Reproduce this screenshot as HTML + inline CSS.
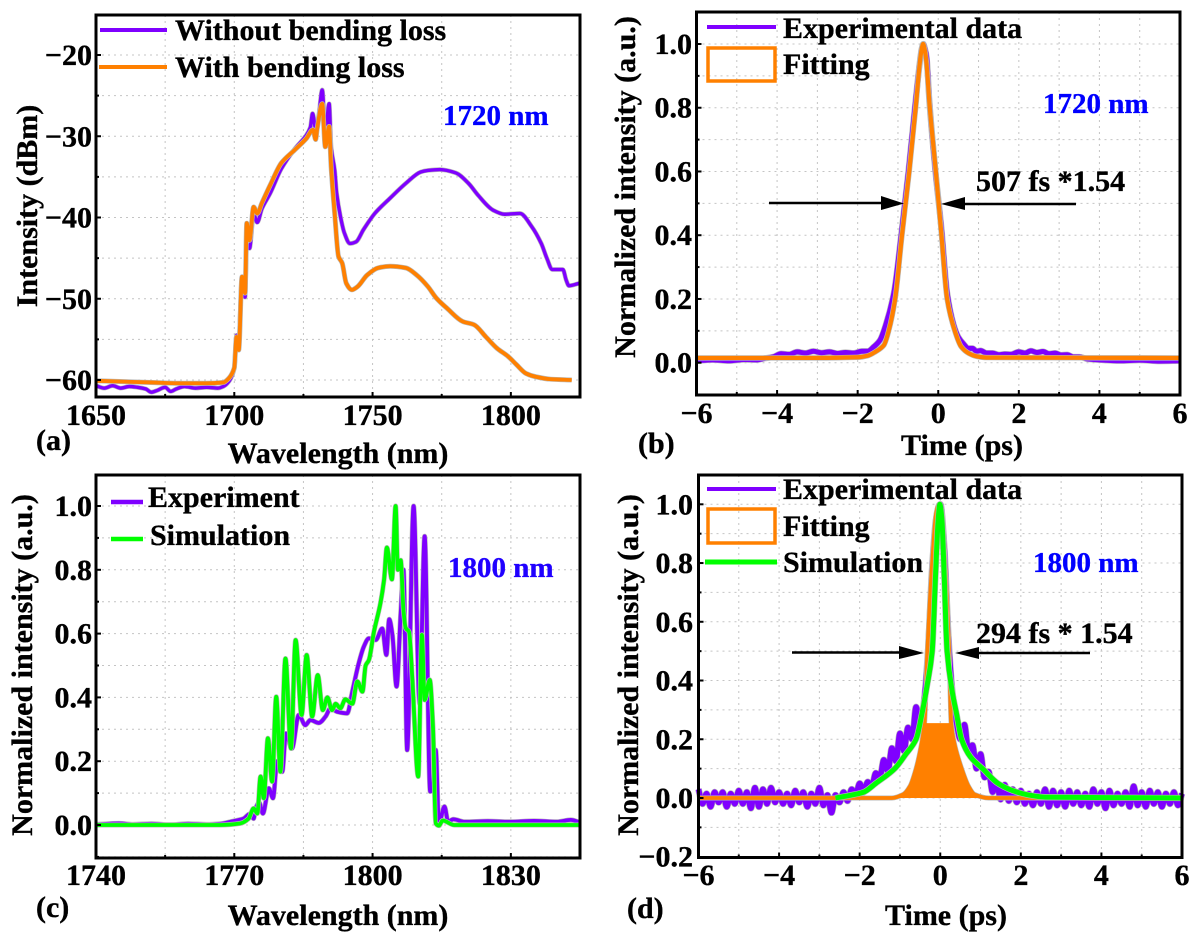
<!DOCTYPE html>
<html lang="en">
<head>
<meta charset="utf-8">
<title>Spectra and autocorrelation traces at 1720 nm and 1800 nm</title>
<style>
html,body{margin:0;padding:0;background:#fff;}
svg{display:block;}
text{font-family:"Liberation Serif",serif;font-weight:bold;font-size:30px;fill:#000;stroke:#000;stroke-width:0.35px;}
.blue{fill:#0000ff;stroke:#0000ff;font-size:29px;}
.violet{fill:#2000ff;stroke:#2000ff;font-size:29px;}
</style>
</head>
<body>
<svg id="figure" xmlns="http://www.w3.org/2000/svg" width="1200" height="941" viewBox="0 0 1200 941">
<g id="layer-grid"></g>
<g id="layer-series"></g>
<g id="layer-frame"></g>

<!-- Panel a -->
<text transform="translate(37,206) rotate(-90)" text-anchor="middle">Intensity (dBm)</text>
<text x="338" y="463" text-anchor="middle">Wavelength (nm)</text>
<text x="36" y="450">(a)</text>
<line x1="100" y1="30" x2="167" y2="30" stroke="#7f00ff" stroke-width="4"/>
<text x="175" y="40">Without bending loss</text>
<line x1="99" y1="67" x2="167" y2="67" stroke="#ff8000" stroke-width="4"/>
<text x="175" y="77">With bending loss</text>
<text class="blue" x="443" y="125">1720 nm</text>

<!-- Panel b -->
<text transform="translate(635,187) rotate(-90)" text-anchor="middle">Normalized intensity (a.u.)</text>
<text x="962" y="455" text-anchor="middle">Time (ps)</text>
<text x="638" y="453">(b)</text>
<line x1="707" y1="27" x2="776" y2="27" stroke="#7f00ff" stroke-width="4"/>
<text x="783" y="38">Experimental data</text>
<rect x="708" y="48" width="67" height="33" fill="none" stroke="#ff8000" stroke-width="3.5"/>
<text x="783" y="74">Fitting</text>
<text class="blue" x="1043" y="113">1720 nm</text>
<text x="976" y="191">507 fs *1.54</text>
<g>
<line x1="769" y1="203" x2="884" y2="203" stroke="#000" stroke-width="2.5"/>
<polygon points="881,196 904,203.5 881,210" fill="#000"/>
</g>
<g>
<line x1="1076" y1="204" x2="960" y2="204" stroke="#000" stroke-width="2.5"/>
<polygon points="965,197 941,204 965,210" fill="#000"/>
</g>

<!-- Panel c -->
<text transform="translate(32,665) rotate(-90)" text-anchor="middle">Normalized intensity (a.u.)</text>
<text x="338" y="925" text-anchor="middle">Wavelength (nm)</text>
<text x="36" y="917">(c)</text>
<line x1="111" y1="502" x2="143" y2="502" stroke="#7f00ff" stroke-width="4.5"/>
<text x="148" y="507">Experiment</text>
<line x1="111" y1="539" x2="143" y2="539" stroke="#00ff00" stroke-width="4.5"/>
<text x="150" y="545">Simulation</text>
<text class="violet" x="448" y="577">1800 nm</text>

<!-- Panel d -->
<text transform="translate(638,665) rotate(-90)" text-anchor="middle">Normalized intensity (a.u.)</text>
<text x="946" y="925" text-anchor="middle">Time (ps)</text>
<text x="627" y="918">(d)</text>
<line x1="707" y1="489" x2="776" y2="489" stroke="#7f00ff" stroke-width="4"/>
<text x="783" y="499">Experimental data</text>
<rect x="708" y="509" width="67" height="34" fill="none" stroke="#ff8000" stroke-width="3.5"/>
<text x="783" y="536">Fitting</text>
<line x1="705" y1="562" x2="777" y2="562" stroke="#00ff00" stroke-width="5"/>
<text x="783" y="572">Simulation</text>
<text class="blue" x="1033" y="572">1800 nm</text>
<text x="976" y="643">294 fs * 1.54</text>
<g>
<line x1="792" y1="652.5" x2="902" y2="652.5" stroke="#000" stroke-width="2.5"/>
<polygon points="899,646 924,653 899,659" fill="#000"/>
</g>
<g>
<line x1="1090" y1="653" x2="975" y2="653" stroke="#000" stroke-width="2.5"/>
<polygon points="979,647 955,653 979,659" fill="#000"/>
</g>
</svg>

<script>
// ---------- Panel (a) data ----------
const aTicksX = [1650, 1700, 1750, 1800];
const aTicksY = [-20, -30, -40, -50, -60];
const aWithoutX = [1650,1653,1656,1659,1662,1665,1668,1670,1672,1675,1677,1679,1682,1686,1690,1694,1696,1698,1700,1700.8,1701.5,1702.8,1703.9,1704.5,1705.5,1707,1708.3,1710,1713,1717,1722,1726,1727.5,1728.3,1729.4,1730.5,1731.8,1732.9,1734.3,1735,1736.3,1737,1738.4,1739.8,1741.8,1744,1746.7,1750.8,1756.4,1762,1767.4,1770,1774.3,1780,1784.7,1788,1793.6,1797.8,1803.3,1807.5,1811,1813,1815,1818.8,1820,1821,1824.7];
const aWithoutY = [-60.7,-61,-60.7,-61,-60.8,-60.9,-61.1,-61.5,-61.3,-60.9,-61.4,-61.1,-60.8,-61,-60.9,-61,-60.8,-60.2,-58.6,-54.5,-56,-47.5,-49.8,-43.3,-43.8,-39.6,-40.6,-38.9,-37,-34,-31.5,-29.9,-28.9,-27.2,-29,-27.5,-24.3,-29.6,-26,-31.3,-34.2,-37,-39.9,-41.9,-43.2,-43,-41.5,-39.5,-37.6,-35.8,-34.4,-34.2,-34.1,-34.5,-35.8,-37.2,-39.1,-39.6,-39.5,-41.1,-43.2,-45,-46.4,-46.4,-47.7,-48.4,-48.1];
const aWithX = [1650,1660,1670,1680,1690,1696,1698,1700,1700.8,1701.6,1702.8,1703.9,1704.5,1705.5,1707,1708.3,1710,1713,1717,1721.8,1726,1728.5,1729.4,1730,1731.8,1732.9,1734.3,1735,1736.3,1737.7,1739,1740.5,1742.5,1744.6,1748,1752,1756.4,1762,1766,1770,1773,1777,1782.6,1786.7,1791,1795,1799,1802,1805.5,1809,1814.4,1822];
const aWithY = [-60.1,-60.2,-60.3,-60.4,-60.4,-60.3,-59.8,-58.5,-54.7,-56.3,-47.3,-49.3,-40.7,-42.8,-38.7,-39.5,-38.2,-36,-33.3,-31.7,-30.3,-29.2,-30.4,-29,-26,-31.3,-28.8,-33.7,-39.5,-44.8,-45.6,-48.1,-48.9,-48.5,-47.1,-46.2,-46,-46.2,-47.1,-48.5,-49.9,-51.2,-52.8,-53.2,-54.7,-56.1,-57.1,-58.1,-59.2,-59.6,-59.9,-60];

// ---------- Panel (b) data ----------
const bTicksX = [-6, -4, -2, 0, 2, 4, 6];
const bTicksY = [0.0, 0.2, 0.4, 0.6, 0.8, 1.0];
const bExperimentX = [-6,-5.6,-5.2,-4.8,-4.5,-4.3,-4.1,-3.9,-3.7,-3.5,-3.3,-3.1,-2.9,-2.7,-2.5,-2.3,-2.1,-1.9,-1.75,-1.6,-1.45,-1.3,-1.1,-0.92,-0.74,-0.58,-0.46,-0.41,-0.37,-0.33,-0.29,-0.22,-0.07,0.08,0.22,0.38,0.5,0.62,0.75,0.85,0.95,1.05,1.2,1.35,1.5,1.65,1.8,2,2.15,2.3,2.45,2.6,2.75,2.9,3.05,3.2,3.35,3.5,3.7,4,4.5,5,5.5,6];
const bExperimentY = [0.006,0.009,0.006,0.01,0.009,0.014,0.018,0.028,0.026,0.034,0.03,0.036,0.031,0.034,0.029,0.032,0.03,0.036,0.036,0.05,0.07,0.12,0.22,0.40,0.60,0.80,0.94,0.985,1.0,0.985,0.96,0.82,0.60,0.42,0.22,0.12,0.08,0.06,0.045,0.045,0.036,0.038,0.03,0.03,0.025,0.027,0.026,0.034,0.03,0.037,0.032,0.035,0.028,0.03,0.024,0.025,0.018,0.018,0.012,0.009,0.006,0.008,0.005,0.006];
const bFitX = [-6,-3,-2,-1.75,-1.55,-1.35,-1.23,-1.07,-0.9,-0.72,-0.56,-0.45,-0.41,-0.375,-0.34,-0.3,-0.21,-0.06,0.08,0.22,0.41,0.57,0.75,0.95,1.2,6];
const bFitY = [0.015,0.015,0.017,0.022,0.035,0.055,0.10,0.20,0.40,0.60,0.80,0.95,0.985,1.0,0.985,0.95,0.80,0.60,0.40,0.20,0.10,0.05,0.03,0.02,0.016,0.015];

// ---------- Panel (c) data ----------
const cTicksX = [1740, 1770, 1800, 1830];
const cTicksY = [0.0, 0.2, 0.4, 0.6, 0.8, 1.0];
const cExperimentX = [1740,1745,1748,1752,1756,1760,1764,1767,1769.1,1772,1773.4,1774.2,1774.6,1775.4,1776.2,1777.5,1778.4,1779.3,1780.4,1781.2,1782.5,1784,1785.4,1786.5,1788.3,1789.8,1790.9,1792.3,1794.5,1795.6,1797,1798.1,1799.2,1800.7,1802.1,1803,1803.6,1804.3,1805.2,1806.1,1806.7,1807.5,1808.9,1810.2,1811.3,1812.5,1813,1813.7,1814.4,1815.6,1816.4,1817.5,1820,1825,1830,1835,1840,1843,1845];
const cExperimentY = [0.002,0.005,0.002,0.004,0.001,0.004,0.002,0.004,0.01,0.02,0.035,0.02,0.05,0.07,0.036,0.115,0.084,0.20,0.167,0.287,0.24,0.345,0.313,0.329,0.32,0.34,0.366,0.355,0.35,0.418,0.507,0.559,0.585,0.58,0.616,0.533,0.645,0.596,0.434,0.663,0.80,0.235,1.0,0.38,0.905,0.105,0.11,0.235,0.005,0.058,0.01,0.018,0.01,0.012,0.01,0.013,0.01,0.016,0.008];
const cSimulationX = [1740,1767,1771.3,1773.1,1774.2,1775,1775.7,1776.4,1777.3,1778.2,1779.1,1780,1781.1,1782.3,1783.3,1784.6,1785.7,1786.9,1788.1,1789.2,1790.2,1791.2,1792,1793,1794.1,1795.6,1796.7,1797.8,1798.5,1799.2,1800.3,1801.7,1802.5,1803.1,1804.2,1805,1805.5,1806.1,1806.7,1807.2,1807.9,1808.6,1809.9,1810.7,1811.3,1812.4,1813.1,1813.7,1814.4,1815.2,1817.7,1845];
const cSimulationY = [0,0,0.005,0.02,0.052,0.036,0.152,0.084,0.272,0.136,0.402,0.167,0.522,0.24,0.58,0.345,0.533,0.34,0.47,0.36,0.40,0.36,0.38,0.366,0.394,0.38,0.45,0.418,0.50,0.517,0.606,0.695,0.77,0.87,0.77,1.0,0.80,0.83,0.674,0.617,0.606,0.465,0.152,0.596,0.392,0.455,0.308,0.005,-0.002,0.014,0,0];

// ---------- Panel (d) data ----------
const dTicksX = [-6, -4, -2, 0, 2, 4, 6];
const dTicksY = [-0.2, 0.0, 0.2, 0.4, 0.6, 0.8, 1.0];
const dExperimentX = [-6,-5.9,-5.8,-5.7,-5.6,-5.5,-5.4,-5.3,-5.2,-5.1,-5,-4.9,-4.8,-4.7,-4.6,-4.5,-4.4,-4.3,-4.2,-4.1,-4,-3.9,-3.8,-3.7,-3.6,-3.5,-3.4,-3.3,-3.2,-3.1,-3,-2.9,-2.8,-2.7,-2.6,-2.5,-2.4,-2.3,-2.2,-2.1,-2,-1.9,-1.8,-1.7,-1.6,-1.5,-1.4,-1.3,-1.2,-1.1,-1,-0.9,-0.8,-0.7,-0.6,-0.5,-0.4,-0.3,-0.2,-0.1,0,0.1,0.2,0.3,0.4,0.5,0.6,0.7,0.8,0.9,1,1.1,1.2,1.3,1.4,1.5,1.6,1.7,1.8,1.9,2,2.1,2.2,2.3,2.4,2.5,2.6,2.7,2.8,2.9,3,3.1,3.2,3.3,3.4,3.5,3.6,3.7,3.8,3.9,4,4.1,4.2,4.3,4.4,4.5,4.6,4.7,4.8,4.9,5,5.1,5.2,5.3,5.4,5.5,5.6,5.7,5.8,5.9,6];
const dExperimentY = [0.03,-0.02,0.015,-0.03,0.02,-0.015,0.02,-0.03,0.015,-0.02,0.025,-0.02,0.02,-0.035,0.035,-0.03,0.03,-0.02,0.035,-0.015,0.02,-0.02,0.015,-0.025,0.025,-0.015,0.02,-0.03,0.015,-0.02,0.035,-0.025,0.01,-0.05,0.01,-0.015,0.02,-0.01,0.03,0.01,0.05,0.02,0.055,0.04,0.085,0.07,0.13,0.09,0.17,0.125,0.22,0.16,0.24,0.2,0.31,0.24,0.33,0.5,0.78,0.95,1.0,0.85,0.55,0.36,0.26,0.2,0.25,0.16,0.18,0.1,0.15,0.07,0.09,0.02,0.05,-0.005,0.045,-0.01,0.03,-0.015,0.025,-0.02,0.015,-0.025,0.02,-0.02,0.03,-0.03,0.025,-0.025,0.02,-0.03,0.025,-0.02,0.02,-0.025,0.015,-0.03,0.03,-0.02,0.02,-0.035,0.025,-0.025,0.015,-0.02,0.02,-0.03,0.04,-0.025,0.02,-0.03,0.025,-0.02,0.02,-0.03,0.015,-0.02,0.02,-0.025,0.015];
const dFitX = [-6,-1.2,-0.92,-0.75,-0.6,-0.47,-0.39,-0.32,-0.2,-0.1,-0.03,0.05,0.12,0.22,0.27,0.36,0.53,0.7,0.85,1.2,6];
const dFitY = [0,0,0.012,0.04,0.1,0.18,0.255,0.5,0.8,0.97,1.0,0.97,0.8,0.5,0.255,0.18,0.1,0.04,0.012,0,0];
const dFitFillX = [-1.2,-0.92,-0.75,-0.6,-0.47,-0.39,0.27,0.36,0.53,0.7,0.85,1.2];
const dFitFillY = [0,0.012,0.04,0.1,0.18,0.255,0.255,0.18,0.1,0.04,0.012,0];
const dSimulationX = [-2.6,-2.2,-1.9,-1.6,-1.13,-0.85,-0.6,-0.45,-0.33,-0.2,-0.12,-0.05,-0.01,0.04,0.1,0.17,0.3,0.4,0.53,0.75,1.05,1.43,1.8,2.2,2.6,6];
const dSimulationY = [0,0.01,0.02,0.05,0.1,0.15,0.2,0.29,0.38,0.5,0.75,0.95,1.0,0.95,0.75,0.5,0.36,0.29,0.2,0.14,0.1,0.05,0.025,0.01,0.003,0];

// ---------- Rendering ----------
const SVGNS = 'http://www.w3.org/2000/svg';
const PURPLE = '#7f00ff', ORANGE = '#ff8000', GREEN = '#00ff00';
const gridLayer = document.getElementById('layer-grid');
const seriesLayer = document.getElementById('layer-series');
const frameLayer = document.getElementById('layer-frame');

function makePanel(o) {
  o.sx = function (v) { return o.left + (v - o.xMin) / (o.xMax - o.xMin) * (o.right - o.left); };
  o.sy = function (v) { return o.y0 + (v - o.yRef0) / (o.yRef1 - o.yRef0) * (o.y1 - o.y0); };
  return o;
}
function fmtY(v, d) {
  const s = Math.abs(v).toFixed(d);
  return (v < 0 ? '\u2212' : '') + s;
}
function addLine(parent, x1, y1, x2, y2, color, width, dash) {
  const el = document.createElementNS(SVGNS, 'line');
  el.setAttribute('x1', x1);
  el.setAttribute('y1', y1);
  el.setAttribute('x2', x2);
  el.setAttribute('y2', y2);
  el.setAttribute('stroke', color);
  el.setAttribute('stroke-width', width);
  if (dash) el.setAttribute('stroke-dasharray', dash);
  parent.appendChild(el);
  return el;
}
// Monotone cubic through the plotted points: smooth, with no overshoot past the read values.
function curvePath(px, py) {
  const n = px.length;
  const sec = [];
  for (let i = 0; i < n - 1; i++) sec.push((py[i + 1] - py[i]) / (px[i + 1] - px[i]));
  const tan = [];
  for (let i = 0; i < n; i++) {
    if (i === 0) tan.push(sec[0]);
    else if (i === n - 1) tan.push(sec[n - 2]);
    else if (sec[i - 1] * sec[i] <= 0) tan.push(0);
    else tan.push(2 / (1 / sec[i - 1] + 1 / sec[i]));
  }
  let d = 'M' + px[0].toFixed(2) + ' ' + py[0].toFixed(2);
  for (let i = 0; i < n - 1; i++) {
    const h = (px[i + 1] - px[i]) / 3;
    d += 'C' + (px[i] + h).toFixed(2) + ' ' + (py[i] + tan[i] * h).toFixed(2) + ' ' +
         (px[i + 1] - h).toFixed(2) + ' ' + (py[i + 1] - tan[i + 1] * h).toFixed(2) + ' ' +
         px[i + 1].toFixed(2) + ' ' + py[i + 1].toFixed(2);
  }
  return d;
}
function addSeries(panel, xs, ys, color, width, name) {
  const d = curvePath(xs.map(panel.sx), ys.map(panel.sy));
  const group = document.createElementNS(SVGNS, 'g');
  
  
  [['#b9b9b9', width + 1.2], [color, width]].forEach(function (style) {
    const el = document.createElementNS(SVGNS, 'path');
    el.setAttribute('d', d);
    el.setAttribute('fill', 'none');
    el.setAttribute('stroke', style[0]);
    el.setAttribute('stroke-width', style[1]);
    el.setAttribute('stroke-linejoin', 'round');
    group.appendChild(el);
  });
  seriesLayer.appendChild(group);
}
function addFill(panel, xs, ys, color, name) {
  const el = document.createElementNS(SVGNS, 'path');
  el.setAttribute('d', curvePath(xs.map(panel.sx), ys.map(panel.sy)) + 'Z');
  el.setAttribute('fill', color);
  
  
  seriesLayer.appendChild(el);
}
function addAxes(panel, xTicks, yTicks, xMinorStep, yMinorStep, yDigits) {
  const grid = document.createElementNS(SVGNS, 'g');
  
  
  gridLayer.appendChild(grid);
  const frame = document.createElementNS(SVGNS, 'g');
  
  
  frameLayer.appendChild(frame);

  const xStart = xTicks[0];
  for (let i = 0; ; i++) {
    const v = xStart + i * xMinorStep;
    if (v > panel.xMax + 1e-9) break;
    const x = panel.sx(v);
    addLine(grid, x, panel.top, x, panel.bottom, '#c4c4c4', 1, '2 4');
    addLine(frame, x, panel.bottom, x, panel.bottom - (i % 2 === 0 ? 5 : 3), '#000', 2);
  }
  const yStart = yTicks[0];
  const sign = yTicks[1] > yTicks[0] ? 1 : -1;
  for (let k = -6; k < 40; k++) {
    const v = yStart + sign * k * yMinorStep;
    const y = panel.sy(v);
    if (y < panel.top + 1 || y > panel.bottom - 1) continue;
    addLine(grid, panel.left, y, panel.right, y, '#c4c4c4', 1, '2 4');
    addLine(frame, panel.left, y, panel.left + (Math.abs(k) % 2 === 0 ? 5 : 3), y, '#000', 2);
  }

  const box = document.createElementNS(SVGNS, 'rect');
  box.setAttribute('x', panel.left);
  box.setAttribute('y', panel.top);
  box.setAttribute('width', panel.right - panel.left);
  box.setAttribute('height', panel.bottom - panel.top);
  box.setAttribute('fill', 'none');
  box.setAttribute('stroke', '#000');
  box.setAttribute('stroke-width', 3);
  
  
  frame.appendChild(box);

  xTicks.forEach(function (v) {
    const t = document.createElementNS(SVGNS, 'text');
    t.setAttribute('x', panel.sx(v));
    t.setAttribute('y', panel.xLabelY);
    t.setAttribute('text-anchor', 'middle');
    
    
    t.textContent = fmtY(v, 0);
    frame.appendChild(t);
  });
  yTicks.forEach(function (v) {
    const t = document.createElementNS(SVGNS, 'text');
    t.setAttribute('x', panel.yLabelX);
    t.setAttribute('y', panel.sy(v) + 10);
    t.setAttribute('text-anchor', 'end');
    
    
    t.textContent = fmtY(v, yDigits);
    frame.appendChild(t);
  });
}

const panelA = makePanel({id:'a', left:96, right:580, top:15, bottom:397, xMin:1650, xMax:1825, y0:55, yRef0:-20, y1:380, yRef1:-60, xLabelY:425, yLabelX:92});
const panelB = makePanel({id:'b', left:696.5, right:1180, top:12, bottom:395, xMin:-6, xMax:6, y0:362.7, yRef0:0, y1:44, yRef1:1, xLabelY:423, yLabelX:692});
const panelC = makePanel({id:'c', left:96, right:580, top:475, bottom:858, xMin:1740, xMax:1845, y0:825, yRef0:0, y1:506, yRef1:1, xLabelY:885, yLabelX:92});
const panelD = makePanel({id:'d', left:698.5, right:1182, top:475, bottom:857.5, xMin:-6, xMax:6, y0:798, yRef0:0, y1:504.3, yRef1:1, xLabelY:885, yLabelX:693});

addAxes(panelA, aTicksX, aTicksY, 25, 5, 0);
addAxes(panelB, bTicksX, bTicksY, 1, 0.1, 1);
addAxes(panelC, cTicksX, cTicksY, 15, 0.1, 1);
addAxes(panelD, dTicksX, dTicksY, 1, 0.1, 1);

addSeries(panelA, aWithoutX, aWithoutY, PURPLE, 3.4, 'series-a-without-bending-loss');
addSeries(panelA, aWithX, aWithY, ORANGE, 3.8, 'series-a-with-bending-loss');
addSeries(panelB, bExperimentX, bExperimentY, PURPLE, 5, 'series-b-experimental-data');
addSeries(panelB, bFitX, bFitY, ORANGE, 4.2, 'series-b-fitting');
addSeries(panelC, cExperimentX, cExperimentY, PURPLE, 3.8, 'series-c-experiment');
addSeries(panelC, cSimulationX, cSimulationY, GREEN, 3.8, 'series-c-simulation');
addSeries(panelD, dExperimentX, dExperimentY, PURPLE, 5.5, 'series-d-experimental-data');
addSeries(panelD, dFitX, dFitY, ORANGE, 3.8, 'series-d-fitting');
addFill(panelD, dFitFillX, dFitFillY, ORANGE, 'series-d-fitting-fill');
addSeries(panelD, dSimulationX, dSimulationY, GREEN, 5, 'series-d-simulation');
</script>
</body>
</html>
